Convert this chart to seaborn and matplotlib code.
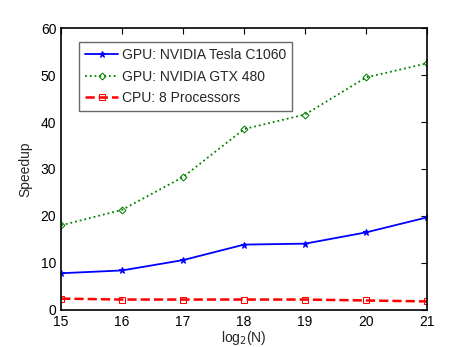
import matplotlib
matplotlib.use("Agg")
import matplotlib.pyplot as plt
import seaborn as sns
import pandas as pd

log2n = [15, 16, 17, 18, 19, 20, 21]
tesla = [7.8, 8.4, 10.6, 13.9, 14.1, 16.5, 19.7]
gtx = [18.0, 21.3, 28.3, 38.5, 41.6, 49.5, 52.5]
cpu = [2.4, 2.2, 2.2, 2.2, 2.2, 2.0, 1.8]
labels = ["GPU: NVIDIA Tesla C1060", "GPU: NVIDIA GTX 480", "CPU: 8 Processors"]

sns.set_style("white")
plt.rcParams['font.family'] = ['Liberation Sans', 'DejaVu Sans']

fig = plt.figure(figsize=(4.74, 3.47), dpi=100)
ax = fig.add_axes([0.129, 0.107, 0.772, 0.812])

styles = [
    dict(color="#0000ff", linestyle="-", marker="*", markersize=5, markerfacecolor="#0000ff", linewidth=1.3),
    dict(color="#008000", linestyle=":", marker="D", markersize=3.5, markerfacecolor="none", linewidth=1.3),
    dict(color="#ff0000", linestyle="--", marker="s", markersize=4.5, markerfacecolor="none", linewidth=1.8),
]
for lab, ys, st in zip(labels, [tesla, gtx, cpu], styles):
    df = pd.DataFrame({"x": log2n, "y": ys})
    sns.lineplot(data=df, x="x", y="y", ax=ax, label=lab, markeredgecolor=st["color"], **st)

ax.set_xlim(15, 21)
ax.set_ylim(0, 60)
ax.set_xticks(log2n)
ax.set_yticks([0, 10, 20, 30, 40, 50, 60])
ax.tick_params(axis="both", labelsize=10, direction="in", length=4, top=True, right=True, colors="black")
for s in ax.spines.values():
    s.set_color("black")
    s.set_linewidth(1.2)
ax.set_xlabel(r"log$_2$(N)", fontsize=10, labelpad=0)
ax.set_ylabel("Speedup", fontsize=10, labelpad=6)
leg = ax.legend(loc="upper left", bbox_to_anchor=(0.048, 0.952), fontsize=10, frameon=True,
                fancybox=False, edgecolor="#444444", handlelength=2.4, handletextpad=0.25,
                borderpad=0.45, labelspacing=0.55, borderaxespad=0)
leg.get_frame().set_linewidth(1.0)

fig.savefig("out.png", dpi=100)
